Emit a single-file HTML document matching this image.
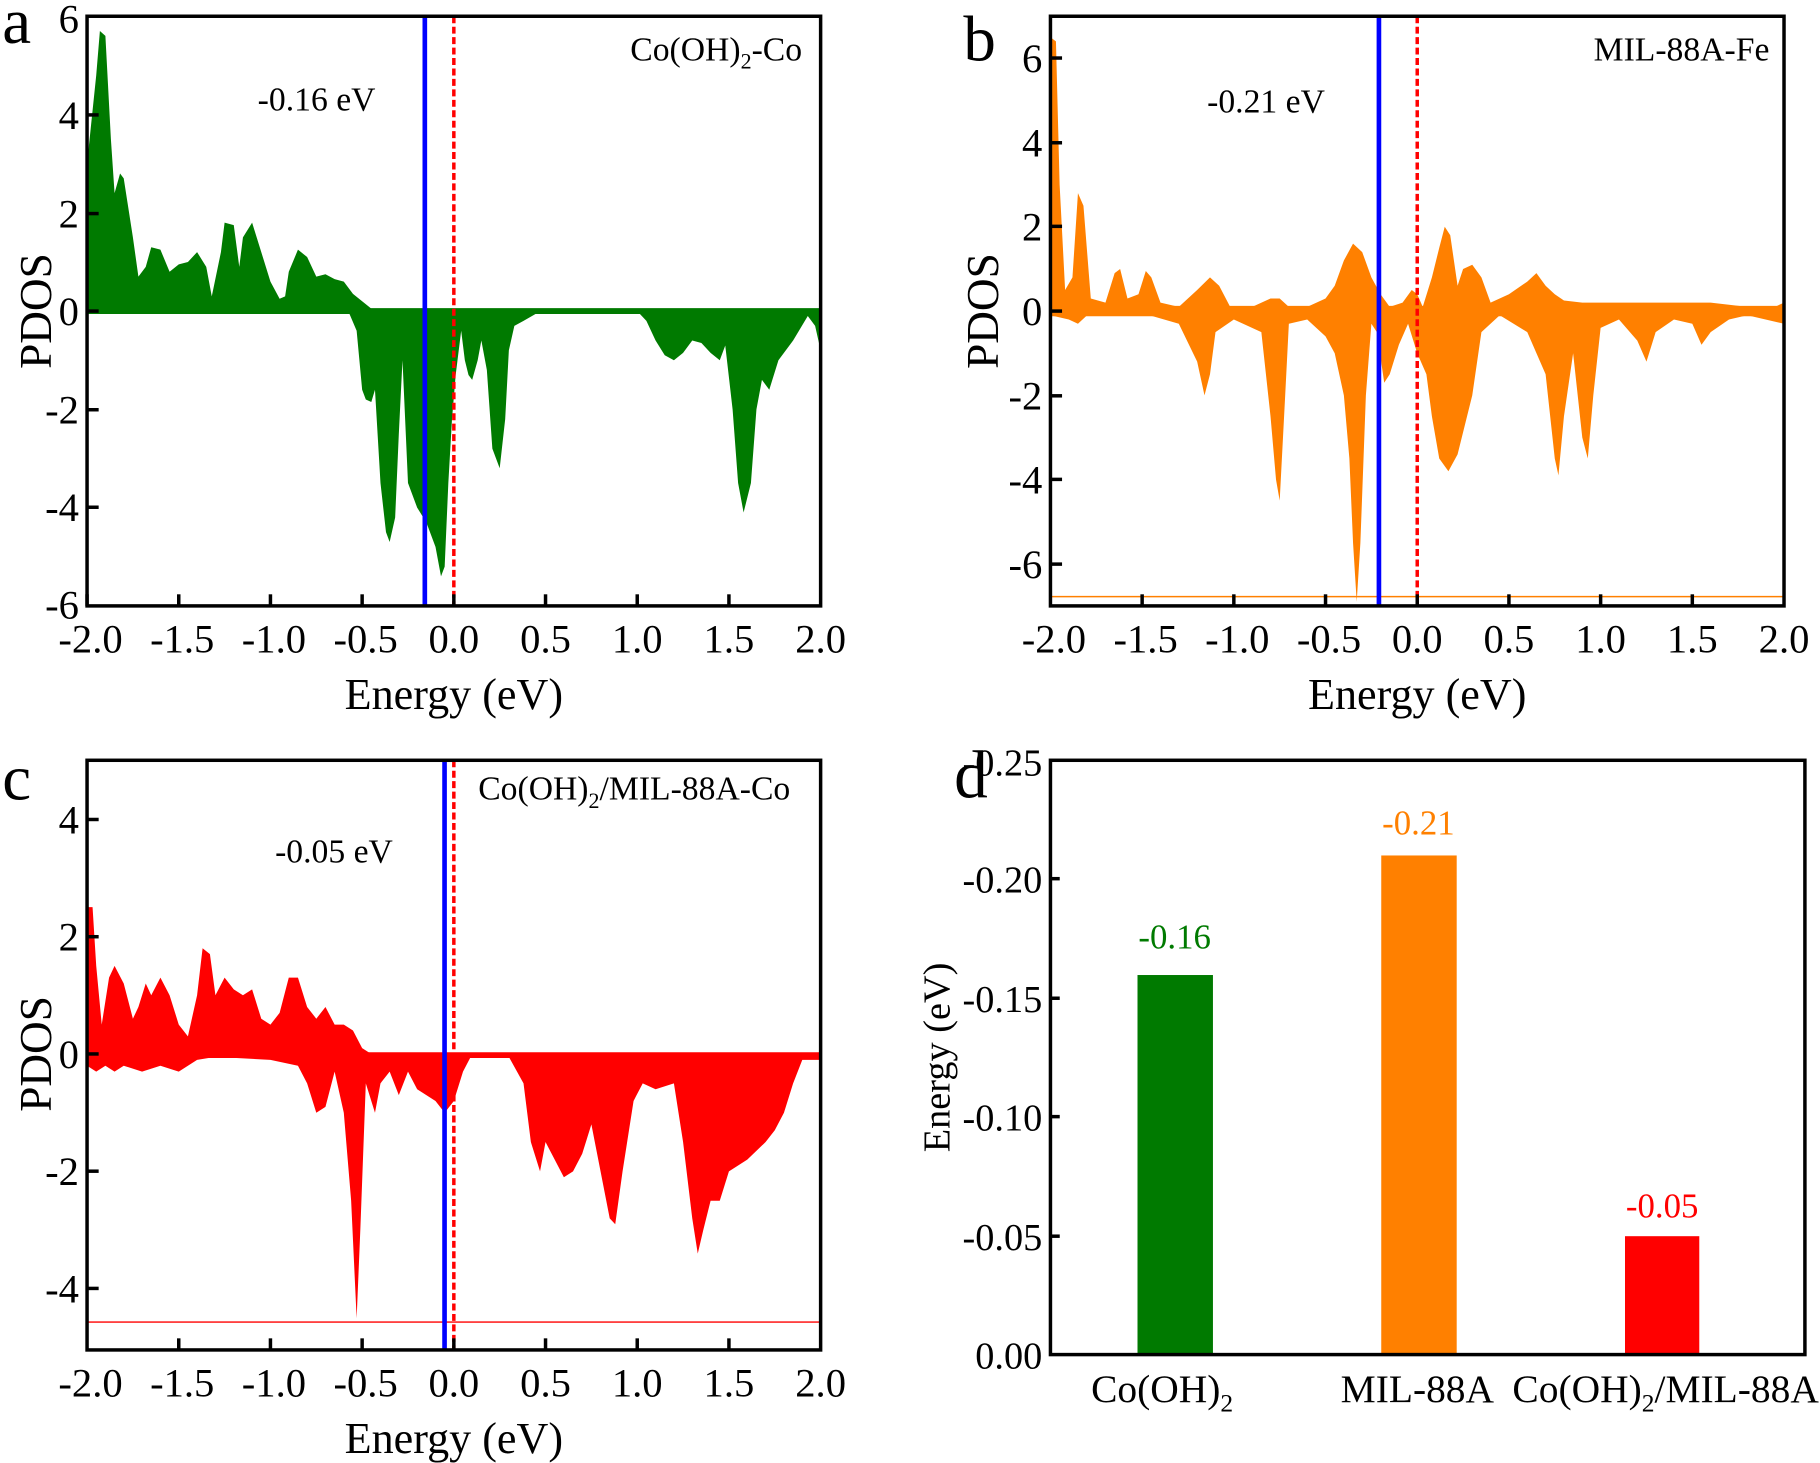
<!DOCTYPE html>
<html><head><meta charset="utf-8"><style>
html,body{margin:0;padding:0;background:#fff;}
svg{display:block;}
text{font-family:"Liberation Serif",serif;}
</style></head><body>
<svg width="1820" height="1463" viewBox="0 0 1568 1260.4" preserveAspectRatio="none" xmlns="http://www.w3.org/2000/svg">
<!-- Panel a -->
<g transform="translate(391,268) scale(158,-42.33)">
<polygon fill="#007a00" points="-2,3 -1.95,4.8 -1.93,5.7 -1.9,5.6 -1.87,3.5 -1.85,2.4 -1.82,2.8 -1.8,2.7 -1.75,1.5 -1.72,0.7 -1.68,0.9 -1.65,1.3 -1.6,1.25 -1.55,0.8 -1.5,0.95 -1.45,1 -1.4,1.2 -1.35,0.9 -1.32,0.3 -1.27,1.2 -1.25,1.8 -1.2,1.75 -1.17,0.9 -1.15,1.5 -1.1,1.8 -1.05,1.2 -1,0.6 -0.95,0.25 -0.92,0.3 -0.9,0.8 -0.85,1.25 -0.8,1.1 -0.75,0.7 -0.7,0.75 -0.65,0.65 -0.6,0.6 -0.55,0.35 -0.5,0.2 -0.45,0.05 -0.43,0 2,0 2,-0.8 1.97,-0.3 1.93,-0.1 1.85,-0.6 1.77,-1 1.72,-1.6 1.68,-1.4 1.65,-2 1.62,-3.5 1.58,-4.1 1.55,-3.5 1.52,-2 1.48,-0.7 1.45,-1 1.4,-0.85 1.35,-0.65 1.3,-0.6 1.25,-0.85 1.2,-1 1.15,-0.9 1.1,-0.6 1.05,-0.2 1,0 0.5,0 0.45,-0.05 0.38,-0.2 0.33,-0.3 0.3,-0.8 0.28,-2.2 0.25,-3.2 0.21,-2.8 0.18,-1.2 0.15,-0.6 0.13,-1 0.1,-1.4 0.08,-1.3 0.06,-1 0.04,-0.4 0.01,-1.3 -0.01,-2.2 -0.03,-3.5 -0.05,-5.2 -0.07,-5.4 -0.1,-4.8 -0.15,-4.3 -0.2,-4 -0.25,-3.5 -0.28,-1 -0.3,-2.5 -0.32,-4.2 -0.35,-4.7 -0.37,-4.5 -0.4,-3.5 -0.43,-1.6 -0.45,-1.85 -0.48,-1.8 -0.5,-1.6 -0.53,-0.4 -0.57,-0.05 -0.6,0 -2,0"/>
</g>
<line x1="75" y1="268" x2="707" y2="268" stroke="#007a00" stroke-width="5"/>
<line x1="366" y1="14" x2="366" y2="522" stroke="#0000ff" stroke-width="4"/>
<line x1="391" y1="14" x2="391" y2="522" stroke="#ff0000" stroke-width="3" stroke-dasharray="6,3"/>
<rect x="75" y="14" width="632" height="508" fill="none" stroke="#000" stroke-width="3"/>
<g stroke="#000" stroke-width="3">
<line x1="75" y1="522" x2="75" y2="512"/><line x1="154" y1="522" x2="154" y2="512"/><line x1="233" y1="522" x2="233" y2="512"/><line x1="312" y1="522" x2="312" y2="512"/><line x1="391" y1="522" x2="391" y2="512"/><line x1="470" y1="522" x2="470" y2="512"/><line x1="549" y1="522" x2="549" y2="512"/><line x1="628" y1="522" x2="628" y2="512"/>
<line x1="75" y1="99" x2="85" y2="99"/><line x1="75" y1="184" x2="85" y2="184"/><line x1="75" y1="268" x2="85" y2="268"/><line x1="75" y1="353" x2="85" y2="353"/><line x1="75" y1="437" x2="85" y2="437"/>
</g>
<g font-size="35" text-anchor="middle">
<text x="78" y="562">-2.0</text><text x="157" y="562">-1.5</text><text x="236" y="562">-1.0</text><text x="315" y="562">-0.5</text><text x="391" y="562">0.0</text><text x="470" y="562">0.5</text><text x="549" y="562">1.0</text><text x="628" y="562">1.5</text><text x="707" y="562">2.0</text>
</g>
<g font-size="35" text-anchor="end">
<text x="68" y="28">6</text><text x="68" y="111">4</text><text x="68" y="196">2</text><text x="68" y="280">0</text><text x="68" y="365">-2</text><text x="68" y="449">-4</text><text x="68" y="533">-6</text>
</g>
<text x="391" y="611" font-size="38" text-anchor="middle">Energy (eV)</text>
<text transform="translate(44,268) rotate(-90)" font-size="39" text-anchor="middle">PDOS</text>
<text x="222" y="95" font-size="29">-0.16 eV</text>
<text x="543" y="52" font-size="29">Co(OH)<tspan font-size="19" dy="7">2</tspan><tspan dy="-7">-Co</tspan></text>
<text x="2" y="37" font-size="56">a</text>

<!-- Panel b -->
<g transform="translate(1221,268) scale(158,-36.3)">
<polygon fill="#ff8000" points="-2,6.5 -1.97,6.4 -1.95,3 -1.92,0.5 -1.88,0.8 -1.85,2.8 -1.82,2.5 -1.78,0.3 -1.7,0.2 -1.65,0.9 -1.62,1 -1.58,0.3 -1.52,0.4 -1.48,0.95 -1.45,0.8 -1.4,0.2 -1.3,0.1 -1.2,0.5 -1.13,0.8 -1.08,0.6 -1.02,0.1 -0.9,0.1 -0.8,0.3 -0.75,0.3 -0.7,0.1 -0.6,0.1 -0.5,0.3 -0.45,0.6 -0.4,1.2 -0.35,1.6 -0.3,1.4 -0.25,0.8 -0.2,0.4 -0.15,0.1 -0.08,0.2 -0.03,0.5 0,0.4 0.03,0.1 0.08,0.8 0.12,1.5 0.15,2 0.18,1.8 0.22,0.6 0.25,1 0.3,1.1 0.35,0.8 0.4,0.2 0.5,0.4 0.6,0.7 0.65,0.9 0.7,0.6 0.75,0.4 0.8,0.25 0.9,0.2 1.5,0.2 1.6,0.2 1.8,0.1 1.95,0.1 2,0.2 2,-0.3 1.8,-0.1 1.7,-0.2 1.6,-0.5 1.55,-0.8 1.5,-0.3 1.4,-0.2 1.3,-0.5 1.25,-1.2 1.2,-0.7 1.1,-0.2 1,-0.4 0.96,-2 0.93,-3.5 0.9,-3 0.85,-1 0.8,-2.5 0.77,-3.9 0.75,-3.5 0.7,-1.5 0.6,-0.5 0.45,-0.1 0.35,-0.5 0.3,-2 0.22,-3.4 0.17,-3.8 0.12,-3.5 0.08,-2.5 0.05,-1.5 0,-1 -0.05,-0.3 -0.1,-0.8 -0.15,-1.5 -0.18,-1.7 -0.22,-0.5 -0.25,-0.3 -0.28,-2 -0.31,-5.5 -0.33,-6.9 -0.35,-5.5 -0.37,-3.5 -0.4,-2 -0.45,-1 -0.5,-0.6 -0.6,-0.2 -0.7,-0.3 -0.72,-2 -0.75,-4.5 -0.77,-4 -0.8,-2.5 -0.85,-0.5 -1,-0.2 -1.1,-0.5 -1.13,-1.5 -1.16,-2 -1.2,-1.2 -1.3,-0.3 -1.5,-0.05 -1.6,-0.1 -1.8,-0.1 -1.85,-0.3 -1.9,-0.2 -2,-0.1"/>
</g>
<line x1="905" y1="268" x2="1537" y2="268" stroke="#ff8000" stroke-width="9"/>
<line x1="905" y1="514" x2="1537" y2="514" stroke="#ff8000" stroke-width="1.2"/>
<line x1="1188" y1="14" x2="1188" y2="522" stroke="#0000ff" stroke-width="4"/>
<line x1="1221" y1="14" x2="1221" y2="522" stroke="#ff0000" stroke-width="3" stroke-dasharray="6,3"/>
<rect x="905" y="14" width="632" height="508" fill="none" stroke="#000" stroke-width="3"/>
<g stroke="#000" stroke-width="3">
<line x1="984" y1="522" x2="984" y2="512"/><line x1="1063" y1="522" x2="1063" y2="512"/><line x1="1142" y1="522" x2="1142" y2="512"/><line x1="1221" y1="522" x2="1221" y2="512"/><line x1="1300" y1="522" x2="1300" y2="512"/><line x1="1379" y1="522" x2="1379" y2="512"/><line x1="1458" y1="522" x2="1458" y2="512"/>
<line x1="905" y1="50" x2="915" y2="50"/><line x1="905" y1="123" x2="915" y2="123"/><line x1="905" y1="195" x2="915" y2="195"/><line x1="905" y1="268" x2="915" y2="268"/><line x1="905" y1="341" x2="915" y2="341"/><line x1="905" y1="413" x2="915" y2="413"/><line x1="905" y1="486" x2="915" y2="486"/>
</g>
<g font-size="35" text-anchor="middle">
<text x="908" y="562">-2.0</text><text x="987" y="562">-1.5</text><text x="1066" y="562">-1.0</text><text x="1145" y="562">-0.5</text><text x="1221" y="562">0.0</text><text x="1300" y="562">0.5</text><text x="1379" y="562">1.0</text><text x="1458" y="562">1.5</text><text x="1537" y="562">2.0</text>
</g>
<g font-size="35" text-anchor="end">
<text x="898" y="62">6</text><text x="898" y="135">4</text><text x="898" y="207">2</text><text x="898" y="280">0</text><text x="898" y="353">-2</text><text x="898" y="425">-4</text><text x="898" y="498">-6</text>
</g>
<text x="1221" y="611" font-size="38" text-anchor="middle">Energy (eV)</text>
<text transform="translate(860,268) rotate(-90)" font-size="39" text-anchor="middle">PDOS</text>
<text x="1040" y="97" font-size="29">-0.21 eV</text>
<text x="1373" y="52" font-size="29">MIL-88A-Fe</text>
<text x="830" y="52" font-size="56">b</text>

<!-- Panel c -->
<g transform="translate(391,908) scale(158,-50.6)">
<polygon fill="#ff0000" points="-2,2.5 -1.97,2.5 -1.95,1.5 -1.92,0.5 -1.88,1.3 -1.85,1.5 -1.8,1.2 -1.75,0.6 -1.72,0.8 -1.68,1.2 -1.65,1 -1.6,1.3 -1.55,1 -1.5,0.5 -1.45,0.3 -1.4,1 -1.37,1.8 -1.33,1.7 -1.3,1 -1.25,1.3 -1.2,1.1 -1.15,1 -1.1,1.1 -1.05,0.6 -1,0.5 -0.95,0.7 -0.9,1.3 -0.85,1.3 -0.8,0.8 -0.75,0.6 -0.7,0.8 -0.65,0.5 -0.6,0.5 -0.55,0.4 -0.5,0.1 -0.45,0 2,0 2,-0.1 1.9,-0.1 1.85,-0.5 1.8,-1 1.75,-1.3 1.7,-1.5 1.6,-1.8 1.5,-2 1.45,-2.5 1.4,-2.5 1.36,-3 1.33,-3.4 1.3,-2.8 1.25,-1.5 1.2,-0.5 1.1,-0.6 1.03,-0.5 0.98,-0.8 0.92,-2 0.88,-2.9 0.85,-2.8 0.8,-2 0.75,-1.2 0.7,-1.7 0.65,-2 0.6,-2.1 0.55,-1.8 0.5,-1.5 0.47,-2 0.42,-1.5 0.38,-0.5 0.3,-0.05 0.1,0 0.05,-0.3 0,-0.8 -0.05,-1 -0.1,-0.8 -0.15,-0.7 -0.2,-0.6 -0.25,-0.3 -0.3,-0.7 -0.35,-0.3 -0.4,-0.5 -0.43,-1 -0.48,-0.5 -0.51,-3 -0.53,-4.5 -0.56,-2.5 -0.6,-1 -0.65,-0.3 -0.7,-0.9 -0.75,-1 -0.8,-0.5 -0.85,-0.2 -1,-0.1 -1.3,-0.05 -1.4,-0.1 -1.5,-0.3 -1.6,-0.2 -1.7,-0.3 -1.8,-0.2 -1.85,-0.3 -1.9,-0.2 -1.95,-0.3 -2,-0.2"/>
</g>
<line x1="75" y1="909" x2="707" y2="909" stroke="#ff0000" stroke-width="5"/>
<line x1="75" y1="1139" x2="707" y2="1139" stroke="#ff0000" stroke-width="1.2"/>
<line x1="383" y1="655" x2="383" y2="1163" stroke="#0000ff" stroke-width="4"/>
<line x1="391" y1="655" x2="391" y2="1163" stroke="#ff0000" stroke-width="3" stroke-dasharray="6,3"/>
<rect x="75" y="655" width="632" height="508" fill="none" stroke="#000" stroke-width="3"/>
<g stroke="#000" stroke-width="3">
<line x1="154" y1="1163" x2="154" y2="1153"/><line x1="233" y1="1163" x2="233" y2="1153"/><line x1="312" y1="1163" x2="312" y2="1153"/><line x1="391" y1="1163" x2="391" y2="1153"/><line x1="470" y1="1163" x2="470" y2="1153"/><line x1="549" y1="1163" x2="549" y2="1153"/><line x1="628" y1="1163" x2="628" y2="1153"/>
<line x1="75" y1="706" x2="85" y2="706"/><line x1="75" y1="807" x2="85" y2="807"/><line x1="75" y1="908" x2="85" y2="908"/><line x1="75" y1="1009" x2="85" y2="1009"/><line x1="75" y1="1110" x2="85" y2="1110"/>
</g>
<g font-size="35" text-anchor="middle">
<text x="78" y="1203">-2.0</text><text x="157" y="1203">-1.5</text><text x="236" y="1203">-1.0</text><text x="315" y="1203">-0.5</text><text x="391" y="1203">0.0</text><text x="470" y="1203">0.5</text><text x="549" y="1203">1.0</text><text x="628" y="1203">1.5</text><text x="707" y="1203">2.0</text>
</g>
<g font-size="35" text-anchor="end">
<text x="68" y="718">4</text><text x="68" y="819">2</text><text x="68" y="920">0</text><text x="68" y="1021">-2</text><text x="68" y="1122">-4</text>
</g>
<text x="391" y="1252" font-size="38" text-anchor="middle">Energy (eV)</text>
<text transform="translate(44,908) rotate(-90)" font-size="39" text-anchor="middle">PDOS</text>
<text x="237" y="743" font-size="29">-0.05 eV</text>
<text x="412" y="689" font-size="29">Co(OH)<tspan font-size="19" dy="7">2</tspan><tspan dy="-7">/MIL-88A-Co</tspan></text>
<text x="2" y="689" font-size="56">c</text>

<!-- Panel d -->
<rect x="980" y="840" width="65" height="327" fill="#007a00"/>
<rect x="1190" y="737" width="65" height="430" fill="#ff8000"/>
<rect x="1400" y="1065" width="64" height="102" fill="#ff0000"/>
<rect x="905" y="655" width="650" height="512" fill="none" stroke="#000" stroke-width="3"/>
<g stroke="#000" stroke-width="3">
<line x1="905" y1="757" x2="913" y2="757"/><line x1="905" y1="860" x2="913" y2="860"/><line x1="905" y1="962" x2="913" y2="962"/><line x1="905" y1="1065" x2="913" y2="1065"/>
</g>
<g font-size="33" text-anchor="end">
<text x="898" y="668">-0.25</text><text x="898" y="769">-0.20</text><text x="898" y="872">-0.15</text><text x="898" y="974">-0.10</text><text x="898" y="1077">-0.05</text><text x="898" y="1179">0.00</text>
</g>
<g font-size="30" text-anchor="middle">
<text x="1012" y="817" style="fill:#007a00">-0.16</text>
<text x="1222" y="719" style="fill:#ff8000">-0.21</text>
<text x="1432" y="1049" style="fill:#ff0000">-0.05</text>
</g>
<g font-size="34">
<text x="940" y="1208">Co(OH)<tspan font-size="22" dy="8">2</tspan></text>
<text x="1155" y="1208">MIL-88A</text>
<text x="1303" y="1208">Co(OH)<tspan font-size="22" dy="8">2</tspan><tspan dy="-8">/MIL-88A</tspan></text>
</g>
<text transform="translate(818,911) rotate(-90)" font-size="33" text-anchor="middle">Energy (eV)</text>
<text x="822" y="687" font-size="58">d</text>
</svg>
</body></html>
